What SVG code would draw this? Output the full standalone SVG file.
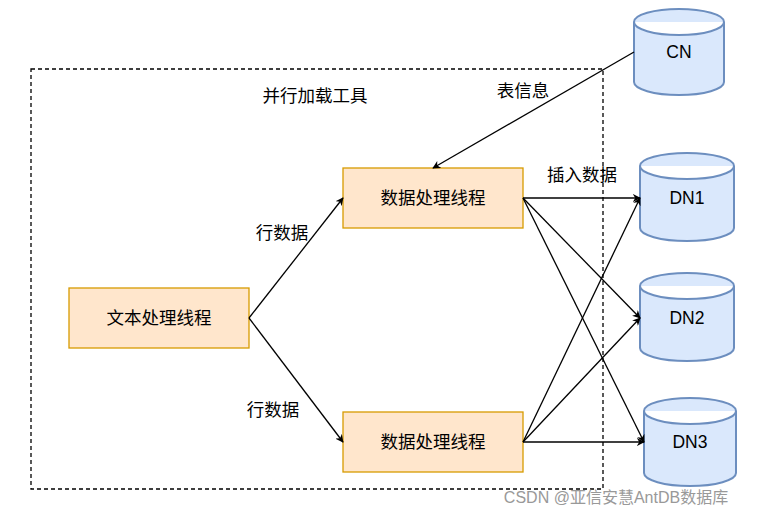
<svg xmlns="http://www.w3.org/2000/svg" width="759" height="515" viewBox="0 0 759 515">
<style>
.box{fill:#ffe6cc;stroke:#d79b00;stroke-width:1.3}
.cyl{fill:#dae8fc;stroke:#6c8ebf;stroke-width:2}
.t{font-family:"Liberation Sans","Noto Sans CJK SC",sans-serif;font-size:17.5px;fill:#000;text-anchor:middle;dominant-baseline:central}
.e{stroke:#000;stroke-width:1.3;fill:none;marker-end:url(#a)}
</style>
<defs>
<marker id="a" viewBox="0 0 10 10" refX="9" refY="5" markerWidth="8" markerHeight="8" orient="auto" markerUnits="userSpaceOnUse">
<path d="M0,0 L10,5 L0,10 L3,5 Z" fill="#000"/>
</marker>
</defs>
<rect width="759" height="515" fill="#fff"/>
<g id="container">
<rect x="31" y="69" width="572" height="420" fill="none" stroke="#000" stroke-width="1.3" stroke-dasharray="4 3"/>
<text class="t" x="315" y="96">并行加载工具</text>
</g>
<g id="cn"><path class="cyl" d="M634,22 a45,13 0 0 1 90,0 v60 a45,13 0 0 1 -90,0 Z M634,22 a45,13 0 0 0 90,0"/><text class="t" x="679" y="52">CN</text></g>
<g id="dn1"><path class="cyl" d="M640,166 a47,13 0 0 1 94,0 v62 a47,13 0 0 1 -94,0 Z M640,166 a47,13 0 0 0 94,0"/><text class="t" x="687" y="198">DN1</text></g>
<g id="dn2"><path class="cyl" d="M640,286 a47,13 0 0 1 94,0 v62 a47,13 0 0 1 -94,0 Z M640,286 a47,13 0 0 0 94,0"/><text class="t" x="687" y="318">DN2</text></g>
<g id="dn3"><path class="cyl" d="M644,411 a46,13 0 0 1 92,0 v62 a46,13 0 0 1 -92,0 Z M644,411 a46,13 0 0 0 92,0"/><text class="t" x="690" y="442">DN3</text></g>
<g id="text-proc"><rect class="box" x="69" y="288" width="180" height="60"/><text class="t" x="159" y="318">文本处理线程</text></g>
<g id="data1"><rect class="box" x="343" y="168" width="180" height="60"/><text class="t" x="433" y="198">数据处理线程</text></g>
<g id="data2"><rect class="box" x="343" y="412" width="180" height="60"/><text class="t" x="433" y="442">数据处理线程</text></g>
<g id="connectors">
<path class="e" d="M634,52 L433,168"/>
<path class="e" d="M249,318 L343,198"/>
<path class="e" d="M249,318 L343,442"/>
<path class="e" d="M523,198 L640,198"/>
<path class="e" d="M523,198 L640,318"/>
<path class="e" d="M523,198 L644,442"/>
<path class="e" d="M523,442 L640,198"/>
<path class="e" d="M523,442 L640,318"/>
<path class="e" d="M523,442 L644,442"/>
<text class="t" x="523" y="91">表信息</text>
<text class="t" x="582" y="175">插入数据</text>
<text class="t" x="282" y="233">行数据</text>
<text class="t" x="273" y="410">行数据</text>
</g>
<text x="616" y="497" style="font-family:'Liberation Sans','Noto Sans CJK SC',sans-serif;font-size:16px;fill:#999;text-anchor:middle;dominant-baseline:central">CSDN @亚信安慧AntDB数据库</text>
</svg>
